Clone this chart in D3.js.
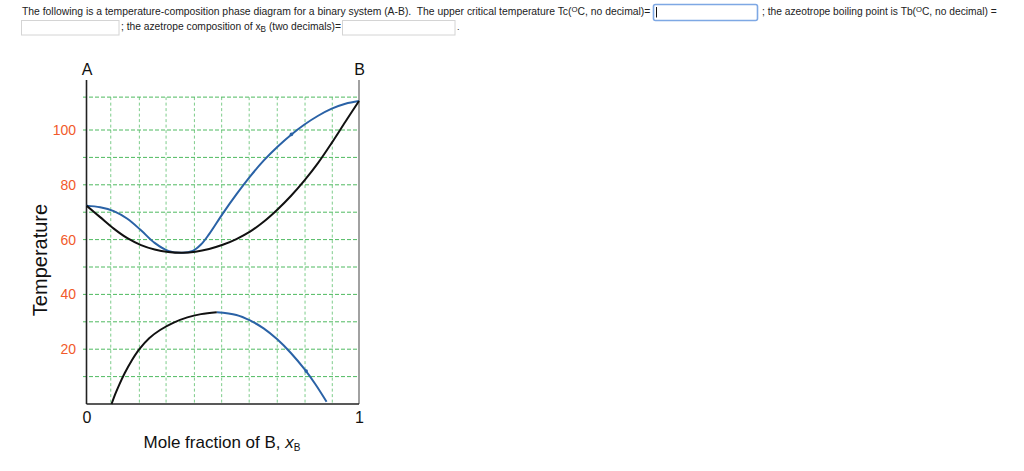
<!DOCTYPE html>
<html>
<head>
<meta charset="utf-8">
<script src="https://cdn.jsdelivr.net/npm/d3@7"></script>
<style>
  html, body { margin: 0; padding: 0; background: #fff; }
  svg text { white-space: pre; }
</style>
</head>
<body>
<svg id="chart" width="1024" height="471"></svg>
<script>
// values (x = mole fraction of B, T = temperature)
var bubbleUpper = [[0,72.4],[0.05,68.2],[0.1,64.0],[0.15,60.5],[0.2,58.0],[0.25,56.4],[0.3,55.5],
  [0.355,55.2],[0.4,55.6],[0.45,56.6],[0.5,58.1],[0.55,60.2],[0.6,62.9],[0.65,66.5],[0.7,70.9],
  [0.75,75.9],[0.8,81.6],[0.85,88.0],[0.9,95.3],[0.95,103.0],[1,110.6]];
var dewUpper = [[0,72.4],[0.05,71.8],[0.1,70.4],[0.15,67.6],[0.2,63.4],[0.25,58.8],[0.3,55.9],[0.35,55.2],
  [0.39,55.9],[0.42,58.2],[0.45,62.0],[0.5,69.5],[0.55,76.5],[0.6,83.0],[0.65,88.8],[0.7,93.8],
  [0.75,98.2],[0.8,102.0],[0.85,105.2],[0.9,107.8],[0.95,109.6],[1,110.6]];
var llLeft = [[0.092,0],[0.105,3.5],[0.12,7.0],[0.14,11.2],[0.165,15.7],[0.194,20.0],[0.23,24.0],
  [0.27,27.0],[0.32,29.7],[0.37,31.6],[0.42,32.8],[0.478,33.5]];
var llRight = [[0.478,33.5],[0.55,32.5],[0.6,30.5],[0.65,27.6],[0.7,23.6],[0.75,18.6],[0.8,12.7],
  [0.84,7.2],[0.881,0.8]];
var blueMarks = [[0.752,98.4],[0.806,12.0]];

var gridX = [0.089,0.194,0.292,0.396,0.496,0.597,0.700,0.802,0.902];
var gridT = [10,20,30,40,50,60,70,80,90,100,112];
var yTicks = [20,40,60,80,100];
var xTicks = [0,1];
var endLabels = ["A","B"];

var svg = d3.select("#chart");

// ---- header text with answer boxes ----
var head = svg.append("g")
  .attr("font-family", "'Liberation Sans', Arial, sans-serif")
  .attr("fill", "#222");

function fitText(sel, width) {
  var len = sel.node().getComputedTextLength();
  var fs = parseFloat(sel.attr("font-size"));
  sel.attr("font-size", (fs * width / len).toFixed(2));
}

var t1 = head.append("text").attr("x", 22).attr("y", 14.5).attr("font-size", 9);
t1.append("tspan").text("The following is a temperature-composition phase diagram for a binary system (A-B).  The upper critical temperature Tc(");
t1.append("tspan").attr("font-size", "0.75em").attr("dy", -3).text("O");
t1.append("tspan").attr("dy", 3).text("C, no decimal)=");
fitText(t1, 629);

var t2 = head.append("text").attr("x", 762).attr("y", 14.5).attr("font-size", 9);
t2.append("tspan").text("; the azeotrope boiling point is Tb(");
t2.append("tspan").attr("font-size", "0.75em").attr("dy", -3).text("O");
t2.append("tspan").attr("dy", 3).text("C, no decimal) =");
fitText(t2, 235);

var t3 = head.append("text").attr("x", 121).attr("y", 29.5).attr("font-size", 9);
t3.append("tspan").text("; the azetrope composition of x");
t3.append("tspan").attr("font-size", "0.8em").attr("dy", 2).text("B");
t3.append("tspan").attr("dy", -2).text(" (two decimals)=");
fitText(t3, 220);

head.append("text").attr("x", 457).attr("y", 29.5).attr("font-size", 9).text(".");

var boxes = [
  {x: 653.5, y: 4.5, w: 104, h: 16, focus: true},
  {x: 21.5, y: 20.5, w: 97.5, h: 14.5, focus: false},
  {x: 342.5, y: 20.5, w: 112.5, h: 14.5, focus: false}
];
head.selectAll("rect.box").data(boxes).join("rect")
  .attr("class", "box")
  .attr("x", function(d){ return d.x; }).attr("y", function(d){ return d.y; })
  .attr("width", function(d){ return d.w; }).attr("height", function(d){ return d.h; })
  .attr("rx", function(d){ return d.focus ? 2 : 0; })
  .attr("fill", "#fff")
  .attr("stroke", function(d){ return d.focus ? "#7ea8e4" : "#d4d4d4"; })
  .attr("stroke-width", function(d){ return d.focus ? 1.6 : 1; });
head.append("line").attr("x1", 656.5).attr("x2", 656.5).attr("y1", 7).attr("y2", 17.5)
  .attr("stroke", "#111").attr("stroke-width", 1);

// ---- phase diagram ----
var x = d3.scaleLinear().domain([0, 1]).range([86.5, 359]);
var y = d3.scaleLinear().domain([0, 100]).range([404, 130]);

var grid = svg.append("g");
grid.selectAll("line.gx").data(gridX).join("line")
  .attr("class", "gx")
  .attr("x1", function(d){ return x(d); }).attr("x2", function(d){ return x(d); })
  .attr("y1", y(112)).attr("y2", y(0))
  .attr("stroke", "#7dcc8a").attr("stroke-width", 1).attr("stroke-dasharray", "3,2.5");
grid.selectAll("line.gy").data(gridT).join("line")
  .attr("class", "gy")
  .attr("x1", x(0) - 3.5).attr("x2", x(1))
  .attr("y1", function(d){ return y(d); }).attr("y2", function(d){ return y(d); })
  .attr("stroke", "#4fba60").attr("stroke-width", 1).attr("stroke-dasharray", "4,2");

// frame lines
svg.append("line").attr("x1", x(0)).attr("x2", x(0)).attr("y1", 80).attr("y2", y(0))
  .attr("stroke", "#222").attr("stroke-width", 1.6);
svg.append("line").attr("x1", x(1)).attr("x2", x(1)).attr("y1", 80).attr("y2", y(0))
  .attr("stroke", "#8a8a8a").attr("stroke-width", 1.6);
svg.append("line").attr("x1", x(0)).attr("x2", x(1)).attr("y1", y(0)).attr("y2", y(0))
  .attr("stroke", "#222").attr("stroke-width", 1.4);

var line = d3.line()
  .x(function(d){ return x(d[0]); })
  .y(function(d){ return y(d[1]); })
  .curve(d3.curveCatmullRom.alpha(0.5));

var curves = [
  {pts: dewUpper, color: "#2a62a6"},
  {pts: bubbleUpper, color: "#111"},
  {pts: llRight, color: "#2a62a6"},
  {pts: llLeft, color: "#111"}
];
svg.selectAll("path.curve").data(curves).join("path")
  .attr("class", "curve")
  .attr("d", function(d){ return line(d.pts); })
  .attr("fill", "none")
  .attr("stroke", function(d){ return d.color; })
  .attr("stroke-width", 2);

svg.selectAll("circle.mark").data(blueMarks).join("circle")
  .attr("class", "mark")
  .attr("cx", function(d){ return x(d[0]); }).attr("cy", function(d){ return y(d[1]); })
  .attr("r", 1.8).attr("fill", "#2a62a6");

// ---- axes (labels only) ----
var font = "'Liberation Sans', Arial, sans-serif";

var yAxis = svg.append("g")
  .attr("transform", "translate(" + x(0) + ",0)")
  .call(d3.axisLeft(y).tickValues(yTicks).tickSize(0).tickPadding(10.5));
yAxis.select(".domain").remove();
yAxis.selectAll("text").attr("font-family", font).attr("font-size", 14).attr("fill", "#f15a2b");

var xAxis = svg.append("g")
  .attr("transform", "translate(0," + y(0) + ")")
  .call(d3.axisBottom(x).tickValues(xTicks).tickFormat(d3.format("d")).tickSize(0).tickPadding(8));
xAxis.select(".domain").remove();
xAxis.selectAll("text").attr("font-family", font).attr("font-size", 16).attr("fill", "#111");

var topAxis = svg.append("g")
  .attr("transform", "translate(0,80)")
  .call(d3.axisTop(x).tickValues(xTicks).tickFormat(function(d, i){ return endLabels[i]; }).tickSize(0).tickPadding(5));
topAxis.select(".domain").remove();
topAxis.selectAll("text").attr("font-family", font).attr("font-size", 16).attr("fill", "#111");

svg.append("text")
  .attr("transform", "translate(47,260) rotate(-90)")
  .attr("text-anchor", "middle")
  .attr("font-family", font).attr("font-size", 20).attr("fill", "#111")
  .text("Temperature");

var xl = svg.append("text")
  .attr("x", 222).attr("y", 448)
  .attr("text-anchor", "middle")
  .attr("font-family", font).attr("font-size", 17).attr("fill", "#111");
xl.append("tspan").text("Mole fraction of B, ");
xl.append("tspan").attr("font-style", "italic").text("x");
xl.append("tspan").attr("font-size", 10).attr("dy", 3).text("B");
</script>
</body>
</html>
